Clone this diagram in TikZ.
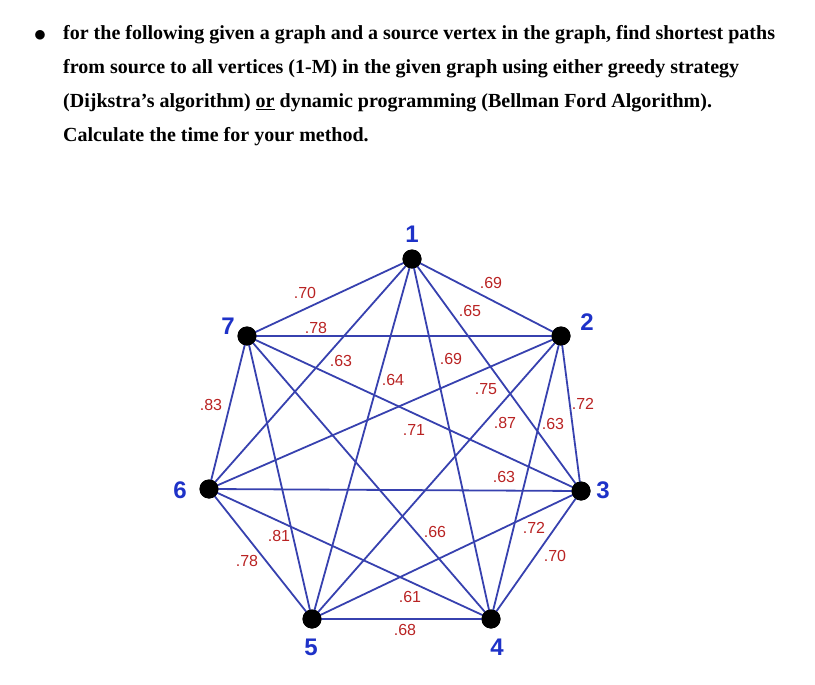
\documentclass[tikz,border=0pt]{standalone}
\usepackage{fontspec}
\setmainfont{Liberation Serif}
\newfontfamily\lsans{Liberation Sans}
\definecolor{eblue}{RGB}{55,65,175}
\definecolor{lred}{RGB}{185,35,35}
\definecolor{vblue}{RGB}{30,50,200}
\begin{document}
\begin{tikzpicture}[x=1pt,y=-1pt,
  vtx/.style={circle,fill=black,inner sep=0,minimum size=19pt},
  edge/.style={draw=eblue,line width=1.8pt},
  wl/.style={text=lred,font=\lsans\fontsize{16}{16}\selectfont,inner sep=0},
  vl/.style={text=vblue,font=\lsans\bfseries\fontsize{24}{24}\selectfont,inner sep=0},
  txt/.style={anchor=base west,font=\bfseries\fontsize{20}{20}\selectfont,inner sep=0}]
\useasboundingbox (0,0) rectangle (815,685);
\node[anchor=base,font=\fontsize{24}{24}\selectfont,inner sep=0] (b) at (40,42) {$\bullet$};
\node[txt] (t1) at (63,40) {for the following given a graph and a source vertex in the graph, find shortest paths};
\node[txt] (t2) at (63,74) {from source to all vertices (1-M) in the given graph using either greedy strategy};
\node[txt] (t3) at (63,108) {(Dijkstra's algorithm) \underline{or} dynamic programming (Bellman Ford Algorithm).};
\node[txt] (t4) at (63,142) {Calculate the time for your method.};
\node[vtx] (v1) at (412,259) {};
\node[vtx] (v2) at (561,336) {};
\node[vtx] (v3) at (581,491) {};
\node[vtx] (v4) at (491,619) {};
\node[vtx] (v5) at (312,619) {};
\node[vtx] (v6) at (209,489) {};
\node[vtx] (v7) at (247,336) {};
\foreach \a/\b in {1/2,1/3,1/4,1/5,1/6,1/7,2/3,2/4,2/5,2/6,2/7,3/4,3/5,3/6,3/7,4/5,4/6,4/7,5/6,5/7,6/7}
  \draw[edge] (v\a.center) -- (v\b.center);
\foreach \a in {1,...,7} \node[vtx] at (v\a) {};
\node[vl] (l1) at (412,234) {1};
\node[vl] (l2) at (587,322) {2};
\node[vl] (l3) at (603,490) {3};
\node[vl] (l4) at (497,647) {4};
\node[vl] (l5) at (311,647) {5};
\node[vl] (l6) at (180,490) {6};
\node[vl] (l7) at (228,326) {7};
\node[wl] (w1) at (305,293) {.70};
\node[wl] (w2) at (491,283) {.69};
\node[wl] (w3) at (470,311) {.65};
\node[wl] (w4) at (316,328) {.78};
\node[wl] (w5) at (341,361) {.63};
\node[wl] (w6) at (393,380) {.64};
\node[wl] (w7) at (451,359) {.69};
\node[wl] (w8) at (486,389) {.75};
\node[wl] (w9) at (211,405) {.83};
\node[wl] (w10) at (583,404) {.72};
\node[wl] (w11) at (505,423) {.87};
\node[wl] (w12) at (553,424) {.63};
\node[wl] (w13) at (414,430) {.71};
\node[wl] (w14) at (504,477) {.63};
\node[wl] (w15) at (279,536) {.81};
\node[wl] (w16) at (247,561) {.78};
\node[wl] (w17) at (435,532) {.66};
\node[wl] (w18) at (534,528) {.72};
\node[wl] (w19) at (555,556) {.70};
\node[wl] (w20) at (410,597) {.61};
\node[wl] (w21) at (405,630) {.68};
\end{tikzpicture}
\end{document}
